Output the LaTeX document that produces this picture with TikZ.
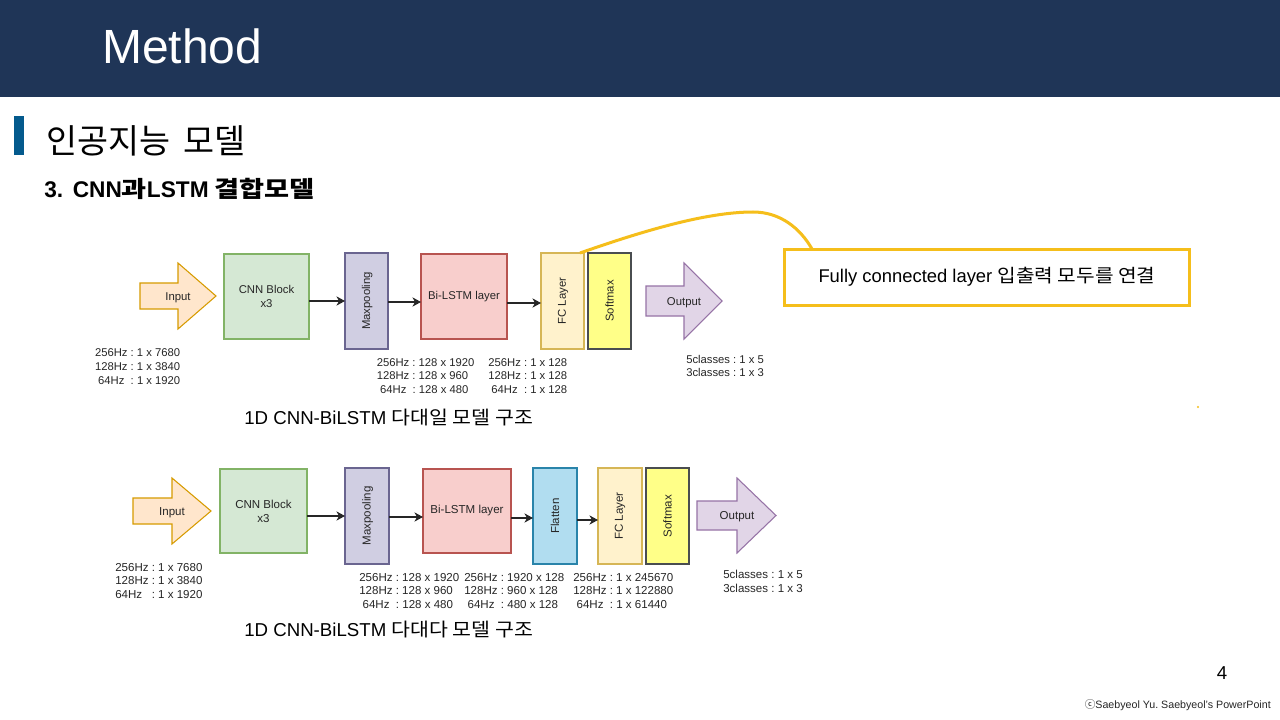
\documentclass[tikz,border=0pt]{standalone}
\usepackage{graphicx}
\usepackage{fontspec}
\setmainfont{Liberation Sans}
\newfontfamily\kr[FakeStretch=1.1]{Noto Sans CJK KR}
\newfontfamily\krn{Noto Sans CJK KR}
\newfontfamily\krw[FakeStretch=1.2]{Noto Sans CJK KR}
\frenchspacing
\usetikzlibrary{arrows.meta}
\definecolor{headerblue}{HTML}{1F3557}
\definecolor{barblue}{HTML}{045A8D}
\definecolor{callout}{HTML}{F5BE1B}
\definecolor{ink}{HTML}{262626}
\newcommand\blk[7]{\node[#6,minimum width={(#4-#2)*0.75pt},minimum height={(#5-#3)*0.75pt}] (#1) at ({(#2+#4)/2},{(#3+#5)/2}) {#7};}
\newcommand\vtxt[1]{\rotatebox{90}{#1}}
\newcommand\htxt[1]{\raisebox{-1.1pt}{#1}}
\newcommand\fatarrow[7]{\filldraw[#7] (#1,#4) -- (#2,#4) -- (#2,#3) -- (#6,{(#3+#5)/2}) -- (#2,#5) -- (#2,{#3+#5-#4}) -- (#1,{#3+#5-#4}) -- cycle;}
\tikzset{
  base/.style={inner sep=0pt,outer sep=0pt,text=ink,font=\fontsize{8.5}{10.3}\selectfont,line width=0.8pt,align=center},
  cnnbox/.style={base,draw=cnnS,fill=cnnF},
  maxbox/.style={base,draw=maxS,fill=maxF},
  lstmbox/.style={base,draw=lstmS,fill=lstmF},
  fcbox/.style={base,draw=fcS,fill=fcF},
  softbox/.style={base,draw=softS,fill=softF},
  flatbox/.style={base,draw=flatS,fill=flatF},
  inarrow/.style={draw=inS,fill=inF,line width=0.8pt,line join=miter},
  outarrow/.style={draw=outS,fill=outF,line width=0.8pt,line join=miter},
  lbl/.style={inner sep=0pt,text=ink},
  lblA/.style={lbl,font=\fontsize{8.45}{10.25}\selectfont},
  lblB/.style={lbl,font=\fontsize{8.65}{10.35}\selectfont},
  flow/.style={draw=ink,line width=0.8pt,-{Stealth[length=6.5pt,width=7pt]}},
  caption/.style={inner sep=0pt,anchor=west,text=black,font=\fontsize{14}{16}\selectfont},
}
\definecolor{cnnF}{HTML}{D5E8D4}\definecolor{cnnS}{HTML}{82B366}
\definecolor{maxF}{HTML}{D0CEE2}\definecolor{maxS}{HTML}{6A6590}
\definecolor{lstmF}{HTML}{F8CECC}\definecolor{lstmS}{HTML}{B85450}
\definecolor{fcF}{HTML}{FFF2CC}\definecolor{fcS}{HTML}{D6B656}
\definecolor{softF}{HTML}{FFFF88}\definecolor{softS}{HTML}{4A4D50}
\definecolor{flatF}{HTML}{B1DDF0}\definecolor{flatS}{HTML}{2A84AA}
\definecolor{inF}{HTML}{FFE6CC}\definecolor{inS}{HTML}{D79B00}
\definecolor{outF}{HTML}{E1D5E7}\definecolor{outS}{HTML}{9673A6}
\begin{document}
\begin{tikzpicture}[x=0.75pt,y=-0.75pt]
\useasboundingbox (0,0) rectangle (1280,720);
\fill[white] (0,0) rectangle (1280,720);
\fill[headerblue] (0,0) rectangle (1280,97);
\fill[barblue] (14,116) rectangle (24,155);
\node[inner sep=0pt,anchor=base west,text=white,font=\fontsize{36}{40}\selectfont] (title) at (102,64) {Method};
\node[inner sep=0pt,anchor=base west,text=black,font=\fontsize{25.3}{30}\selectfont\krn] (subtitle) at (46,154) {인공지능\hspace{4pt} 모델};
\node[inner sep=0pt,anchor=base west,text=black,font=\fontsize{17}{22}\selectfont\bfseries] (section) at (44,198) {3.\hspace{2.5pt} CNN{\krw 과}LSTM {\krw 결합모델}};

% row 1
\fatarrow{140}{178}{263}{283}{329}{216}{inarrow}
\node[base,draw=none,fill=none] (input1) at (178,297.5) {Input};
\blk{cnn1}{224}{254}{309}{339}{cnnbox}{CNN Block\\x3}
\blk{max1}{345}{253}{388}{349}{maxbox}{\hspace{1pt}\vtxt{Maxpooling}}
\blk{lstm1}{421}{254}{507}{339}{lstmbox}{\htxt{Bi-LSTM layer}}
\blk{fc1}{541}{253}{584}{349}{fcbox}{\hspace{1pt}\vtxt{FC Layer}}
\blk{soft1}{588}{253}{631}{349}{softbox}{\vtxt{Softmax}}
\fatarrow{646}{684}{263}{286}{339}{722}{outarrow}
\node[base,draw=none,fill=none] (output1) at (684,302.5) {Output};
\draw[flow] (cnn1.east |- 0,301) -- (max1.west |- 0,301);
\draw[flow] (max1.east |- 0,302) -- (lstm1.west |- 0,302);
\draw[flow] (lstm1.east |- 0,303) -- (fc1.west |- 0,303);
\node[lblA,align=right,anchor=east] (l1a) at (180.5,366.5) {256Hz : 1 x 7680\\128Hz : 1 x 3840\\64Hz\ \ : 1 x 1920};
\node[lblA,align=left,anchor=west] (l1b) at (376.5,376) {256Hz : 128 x 1920\\128Hz : 128 x 960\\\hspace*{2.5pt}64Hz\ \ : 128 x 480};
\node[lblA,align=right,anchor=east] (l1c) at (567.5,376) {256Hz : 1 x 128\\128Hz : 1 x 128\\64Hz\ \ : 1 x 128};
\node[lblA,align=left,anchor=west] (l1d) at (686,366) {5classes : 1 x 5\\3classes : 1 x 3};
\node[caption] (cap1) at (244,417.5) {1D CNN-BiLSTM {\kr 다대일 모델 구조}};

% callout
\node[draw=callout,line width=2.25pt,fill=white,inner sep=0pt,outer sep=0pt,minimum width={405*0.75pt},minimum height={56*0.75pt},text=black,font=\fontsize{13.8}{16}\selectfont] (note) at (987,277) {Fully connected layer {\kr 입출력 모두를 연결}};
\coordinate (noteTop) at (812,249);
\coordinate (curveTop) at (753,212);
\draw[callout,line width=2.25pt] ([xshift=-3pt]fc1.north east) .. controls (640,232) and (705,212) .. (curveTop) .. controls (780,212) and (800,228) .. (noteTop);
\fill[callout] (1198,407) circle (1.2);

% row 2
\fatarrow{133}{172}{478}{498}{544}{211}{inarrow}
\tikzset{base/.append style={font=\fontsize{8.65}{10.35}\selectfont}}
\node[base,draw=none,fill=none] (input2) at (172,512.5) {Input};
\blk{cnn2}{220}{469}{307}{553}{cnnbox}{CNN Block\\x3}
\blk{max2}{345}{468}{389}{564}{maxbox}{\hspace{1pt}\vtxt{Maxpooling}}
\blk{lstm2}{423}{469}{511}{553}{lstmbox}{\htxt{Bi-LSTM layer}}
\blk{flat2}{533}{468}{577}{564}{flatbox}{\vtxt{Flatten}}
\blk{fc2}{598}{468}{642}{564}{fcbox}{\vtxt{FC Layer}}
\blk{soft2}{646}{468}{689}{564}{softbox}{\vtxt{Softmax}}
\fatarrow{697}{737}{478}{501}{553}{776}{outarrow}
\node[base,draw=none,fill=none] (output2) at (737,517) {Output};
\draw[flow] (cnn2.east |- 0,516) -- (max2.west |- 0,516);
\draw[flow] (max2.east |- 0,517) -- (lstm2.west |- 0,517);
\draw[flow] (lstm2.east |- 0,518) -- (flat2.west |- 0,518);
\draw[flow] (flat2.east |- 0,520) -- (fc2.west |- 0,520);
\node[lblB,align=left,anchor=west] (l2a) at (115,581) {256Hz : 1 x 7680\\128Hz : 1 x 3840\\64Hz\ \ \ : 1 x 1920};
\node[lblB,align=left,anchor=west] (l2b) at (359,591) {256Hz : 128 x 1920\\128Hz : 128 x 960\\\hspace*{2.5pt}64Hz\ \ : 128 x 480};
\node[lblB,align=left,anchor=west] (l2c) at (464,591) {256Hz : 1920 x 128\\128Hz : 960 x 128\\\hspace*{2.5pt}64Hz\ \ : 480 x 128};
\node[lblB,align=left,anchor=west] (l2d) at (573,591) {256Hz : 1 x 245670\\128Hz : 1 x 122880\\\hspace*{2.5pt}64Hz\ \ : 1 x 61440};
\node[lblB,align=left,anchor=west] (l2e) at (723,581) {5classes : 1 x 5\\3classes : 1 x 3};
\node[caption] (cap2) at (244,629.5) {1D CNN-BiLSTM {\kr 다대다 모델 구조}};

% footer
\node[inner sep=0pt,text=black,font=\fontsize{14}{16}\selectfont] (page) at (1222,673) {4};
\node[inner sep=0pt,anchor=east,text=ink,font=\fontsize{8}{9}\selectfont] (credit) at (1271,705.5) {{\krn ⓒ}Saebyeol Yu. Saebyeol's PowerPoint};
\end{tikzpicture}
\end{document}
